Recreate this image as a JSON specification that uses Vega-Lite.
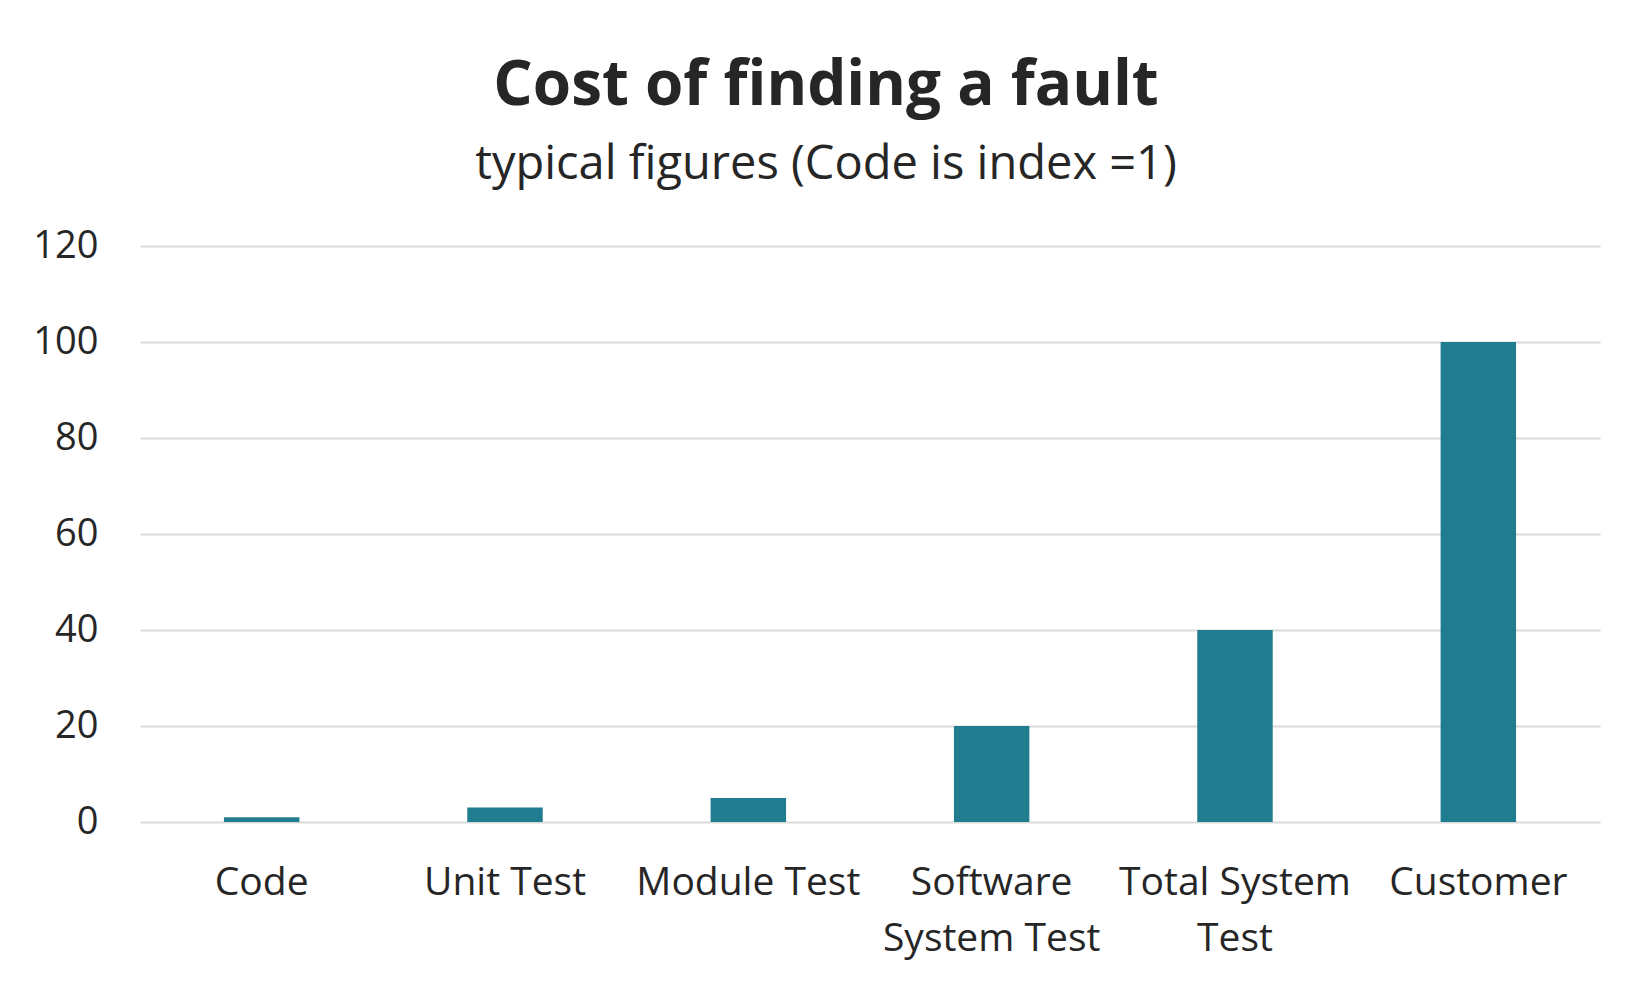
{
  "$schema": "https://vega.github.io/schema/vega-lite/v6.json",
  "autosize": {"type": "none"},
  "width": 1460,
  "height": 576,
  "padding": {"left": 140, "top": 246, "right": 52, "bottom": 170},
  "background": "white",
  "config": {
    "font": "Open Sans",
    "view": {"stroke": null}
  },
  "title": {
    "text": "Cost of finding a fault",
    "subtitle": "typical figures (Code is index =1)",
    "anchor": "middle",
    "frame": "group",
    "dx": -44,
    "offset": 38,
    "font": "Open Sans",
    "fontSize": 62,
    "fontWeight": "bold",
    "color": "#262626",
    "subtitleFont": "Open Sans",
    "subtitleFontSize": 47,
    "subtitleColor": "#262626",
    "subtitlePadding": 24
  },
  "data": {
    "values": [
      {"stage": "Code", "cost": 1},
      {"stage": "Unit Test", "cost": 3},
      {"stage": "Module Test", "cost": 5},
      {"stage": "Software System Test", "cost": 20},
      {"stage": "Total System Test", "cost": 40},
      {"stage": "Customer", "cost": 100}
    ]
  },
  "mark": {"type": "bar", "color": "#1F7D8F"},
  "encoding": {
    "x": {
      "field": "stage",
      "type": "nominal",
      "sort": null,
      "scale": {"paddingInner": 0.69, "paddingOuter": 0.345},
      "axis": {
        "title": null,
        "domain": false,
        "ticks": false,
        "labelAngle": 0,
        "labelFontSize": 39,
        "labelColor": "#262626",
        "labelPadding": 72,
        "labelLimit": 0,
        "labelLineHeight": 56,
        "labelBaseline": "alphabetic",
        "labelExpr": "datum.label == 'Software System Test' ? ['Software', 'System Test'] : datum.label == 'Total System Test' ? ['Total System', 'Test'] : datum.label"
      }
    },
    "y": {
      "field": "cost",
      "type": "quantitative",
      "scale": {"domain": [0, 120]},
      "axis": {
        "title": null,
        "values": [0, 20, 40, 60, 80, 100, 120],
        "domain": false,
        "ticks": false,
        "labelFontSize": 38,
        "labelColor": "#262626",
        "labelPadding": 42,
        "gridColor": "#D9D9D9",
        "gridWidth": 2
      }
    }
  }
}
